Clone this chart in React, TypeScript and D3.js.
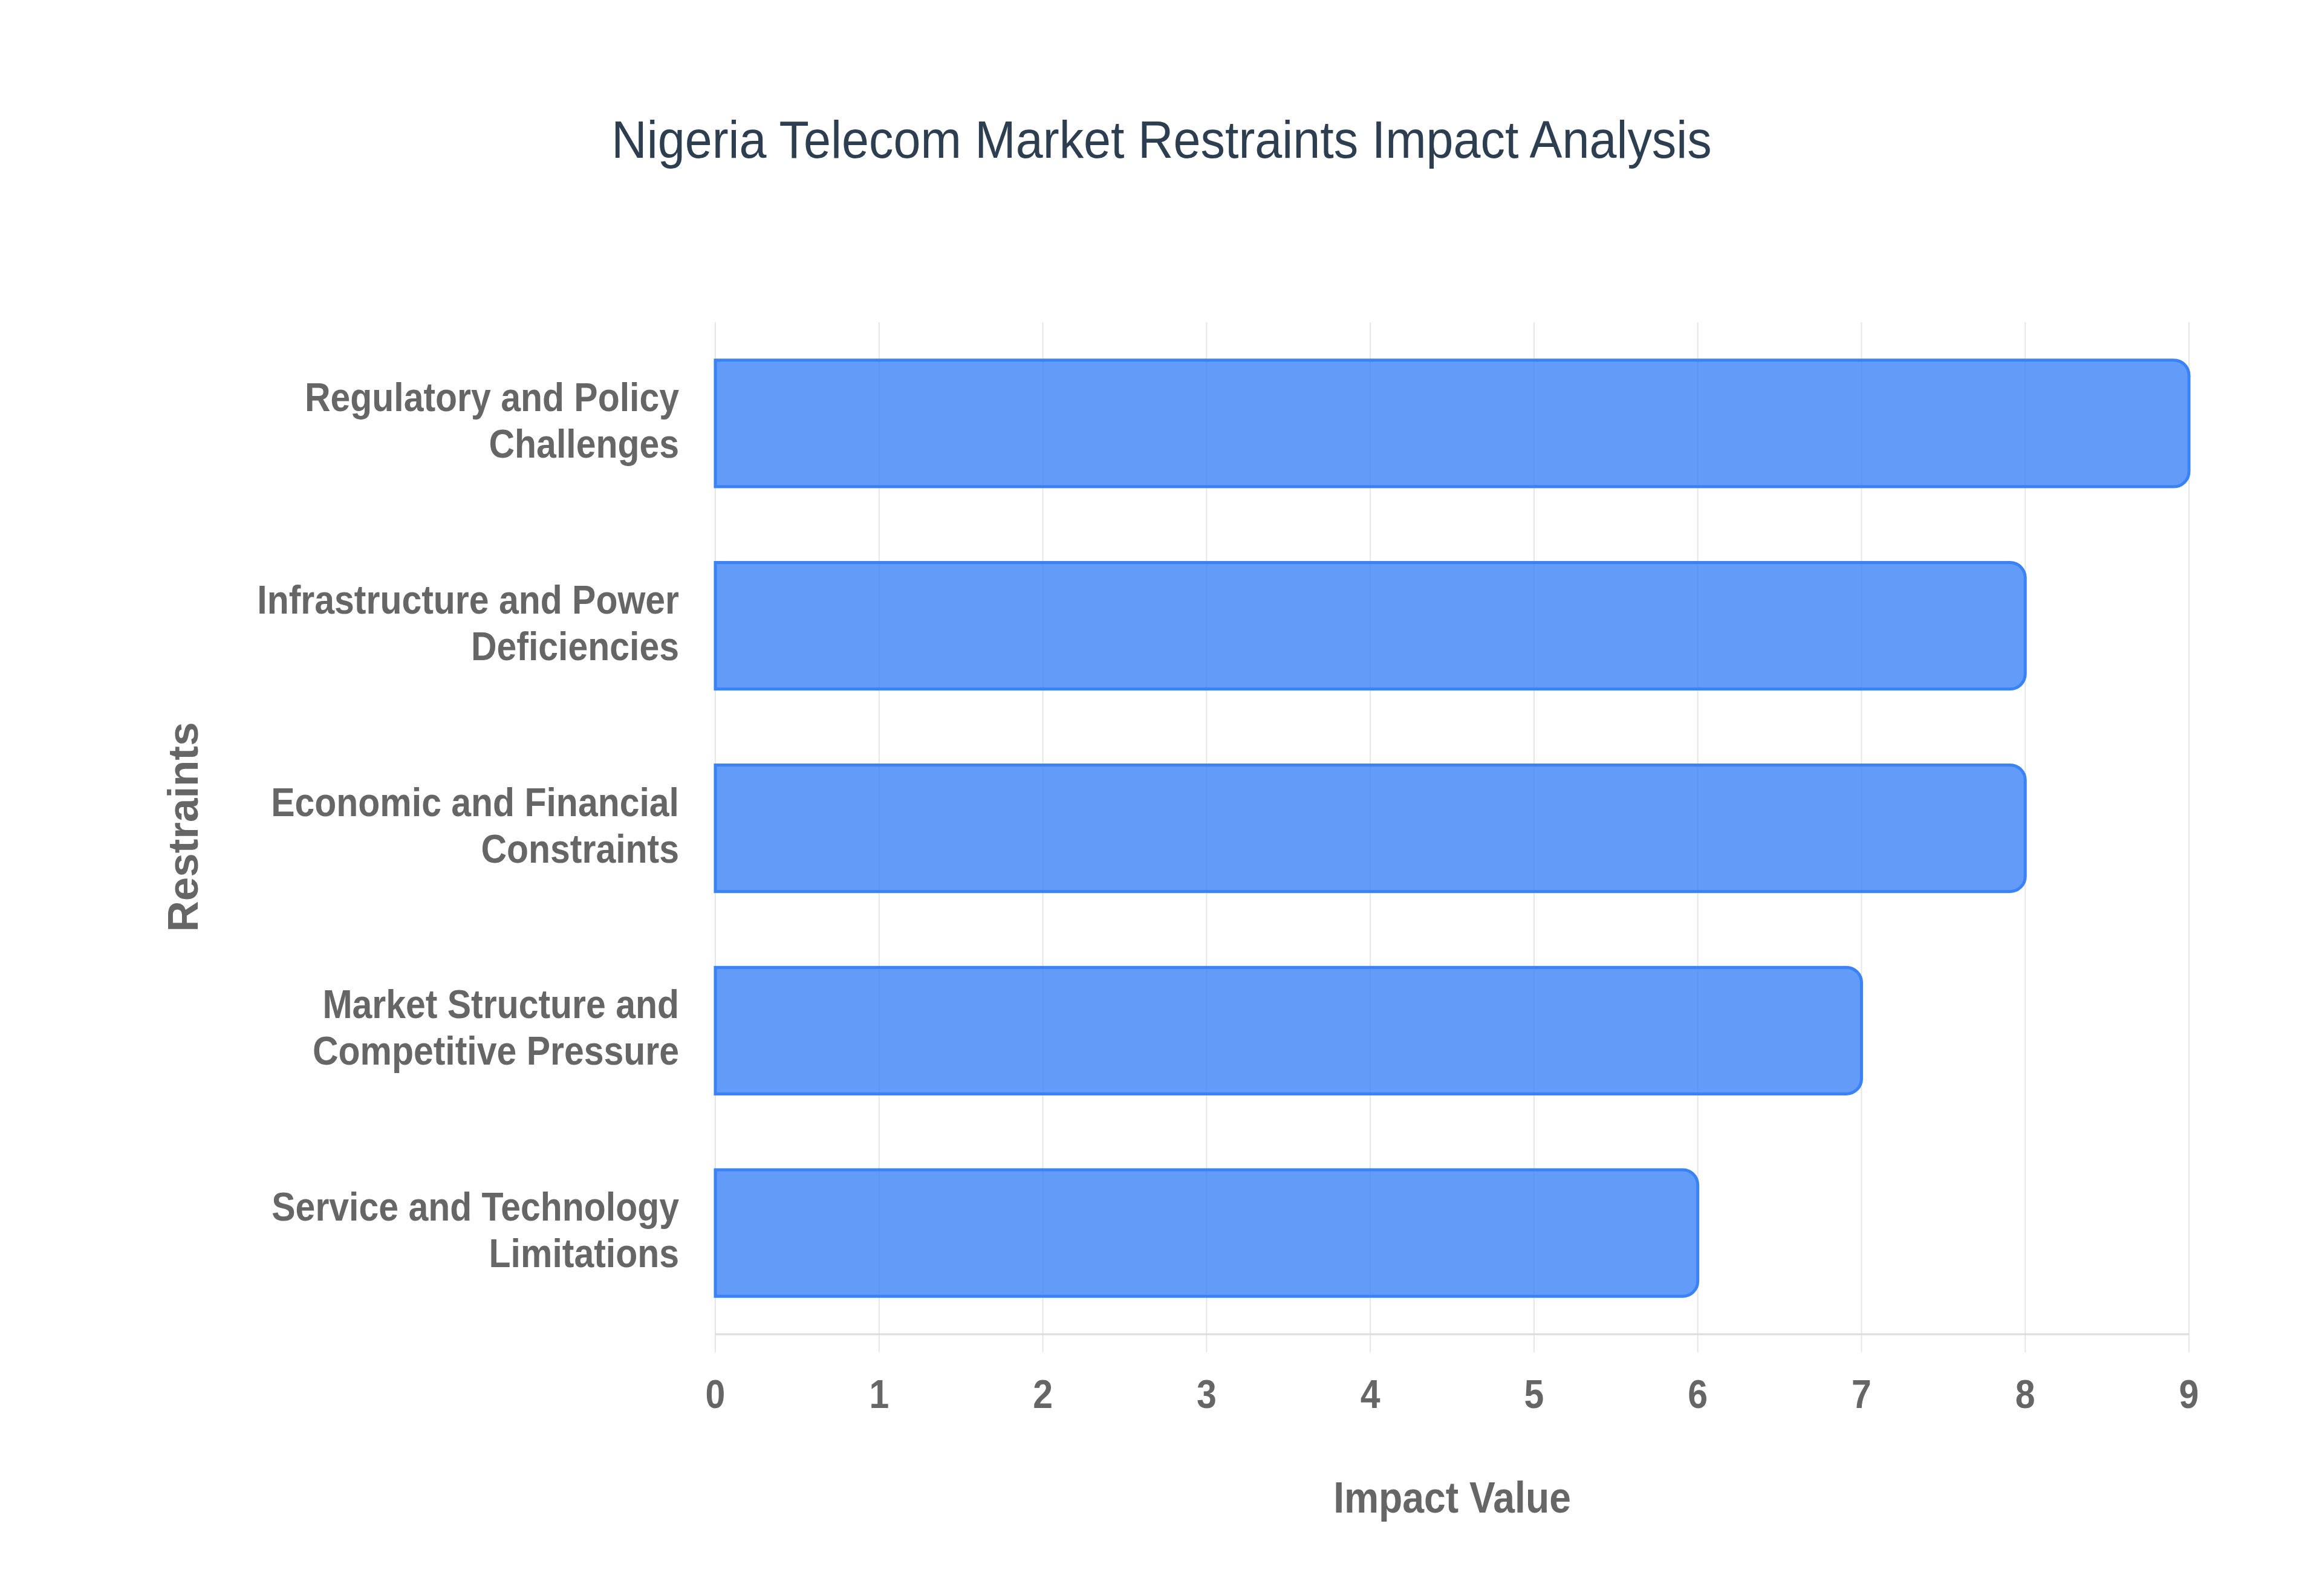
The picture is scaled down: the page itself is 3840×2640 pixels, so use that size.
import React, { useEffect, useRef } from 'react';
import * as d3 from 'd3';

const categories = [
  'Regulatory and Policy Challenges',
  'Infrastructure and Power Deficiencies',
  'Economic and Financial Constraints',
  'Market Structure and Competitive Pressure',
  'Service and Technology Limitations',
];
const impactValues = [9, 8, 8, 7, 6];
const xTicks = [0, 1, 2, 3, 4, 5, 6, 7, 8, 9];

const chartTitle = 'Nigeria Telecom Market Restraints Impact Analysis';
const xTitle = 'Impact Value';
const yTitle = 'Restraints';

const FONT = '"Liberation Sans", Arial, Helvetica, sans-serif';
const SX = 0.88; // the source picture is a bit narrow horizontally

const App: React.FC = () => {
  const svgRef = useRef<SVGSVGElement>(null);

  useEffect(() => {
    if (!svgRef.current) return;
    document.body.style.margin = '0';

    const width = 3840;
    const height = 2640;
    const margin = { top: 533, right: 220, bottom: 433, left: 1183 };

    const svg = d3.select(svgRef.current);
    svg.selectAll('*').remove();
    svg.attr('width', width).attr('height', height);

    svg.append('rect').attr('width', width).attr('height', height).attr('fill', '#ffffff');

    const x = d3.scaleLinear().domain([0, 9]).range([margin.left, width - margin.right]);
    const y = d3
      .scaleBand<string>()
      .domain(categories)
      .range([margin.top, height - margin.bottom])
      .paddingInner(0.375)
      .paddingOuter(0.1875);

    const plotBottom = height - margin.bottom;

    // grid lines (run a bit past the axis like ticks)
    svg
      .append('g')
      .selectAll('line')
      .data(xTicks)
      .join('line')
      .attr('x1', (d) => x(d))
      .attr('x2', (d) => x(d))
      .attr('y1', margin.top)
      .attr('y2', plotBottom + 30)
      .attr('stroke', '#e6e6e6')
      .attr('stroke-width', 2);

    // bottom axis line
    svg
      .append('line')
      .attr('x1', x(0))
      .attr('x2', x(9))
      .attr('y1', plotBottom)
      .attr('y2', plotBottom)
      .attr('stroke', '#dcdcdc')
      .attr('stroke-width', 3);

    // bars, square on the left, rounded on the right
    const r = 25;
    const barPath = (v: number, cat: string) => {
      const x0 = x(0);
      const x1 = x(v);
      const y0 = y(cat)!;
      const y1 = y0 + y.bandwidth();
      return `M${x0},${y0}H${x1 - r}A${r},${r} 0 0 1 ${x1},${y0 + r}V${y1 - r}A${r},${r} 0 0 1 ${x1 - r},${y1}H${x0}Z`;
    };

    svg
      .append('g')
      .selectAll('path')
      .data(categories)
      .join('path')
      .attr('d', (c, i) => barPath(impactValues[i], c))
      .attr('fill', 'rgba(59,130,246,0.8)')
      .attr('stroke', '#3b82f6')
      .attr('stroke-width', 5);

    const addText = (
      tx: number,
      ty: number,
      txt: string,
      size: number,
      anchor: string,
      color: string,
      weight: string,
      sx = SX,
      rotate = 0
    ) =>
      svg
        .append('text')
        .attr('transform', `translate(${tx},${ty}) rotate(${rotate}) scale(${sx},1)`)
        .attr('text-anchor', anchor)
        .attr('font-family', FONT)
        .attr('font-size', size)
        .attr('font-weight', weight)
        .attr('fill', color)
        .text(txt);

    // x tick labels
    xTicks.forEach((t) => addText(x(t), 2329, String(t), 67, 'middle', '#666666', 'bold'));

    // category labels, wrapped
    const maxW = 830;
    categories.forEach((c) => {
      const words = c.split(' ');
      const lines: string[] = [];
      let cur = '';
      const probe = svg
        .append('text')
        .attr('font-family', FONT)
        .attr('font-size', 67)
        .attr('font-weight', 'bold');
      words.forEach((w) => {
        const test = cur ? cur + ' ' + w : w;
        probe.text(test);
        const len = (probe.node() as SVGTextElement).getComputedTextLength();
        if (len > maxW && cur) {
          lines.push(cur);
          cur = w;
        } else {
          cur = test;
        }
      });
      if (cur) lines.push(cur);
      probe.remove();

      const cy = y(c)! + y.bandwidth() / 2;
      const lh = 77;
      lines.forEach((ln, i) => {
        const by = cy + (i - (lines.length - 1) / 2) * lh + 24 - 6;
        addText(1123, by, ln, 67, 'end', '#666666', 'bold');
      });
    });

    // titles
    addText(1921, 261, chartTitle, 87, 'middle', '#2c3e50', 'normal', 0.93);
    addText(x(4.5), 2502, xTitle, 73, 'middle', '#666666', 'bold');
    addText(327, 1368, yTitle, 71, 'middle', '#666666', 'bold', 1, -90);
  }, []);

  return <svg ref={svgRef} style={{ display: 'block', position: 'absolute', left: 0, top: 0 }} />;
};

export default App;
